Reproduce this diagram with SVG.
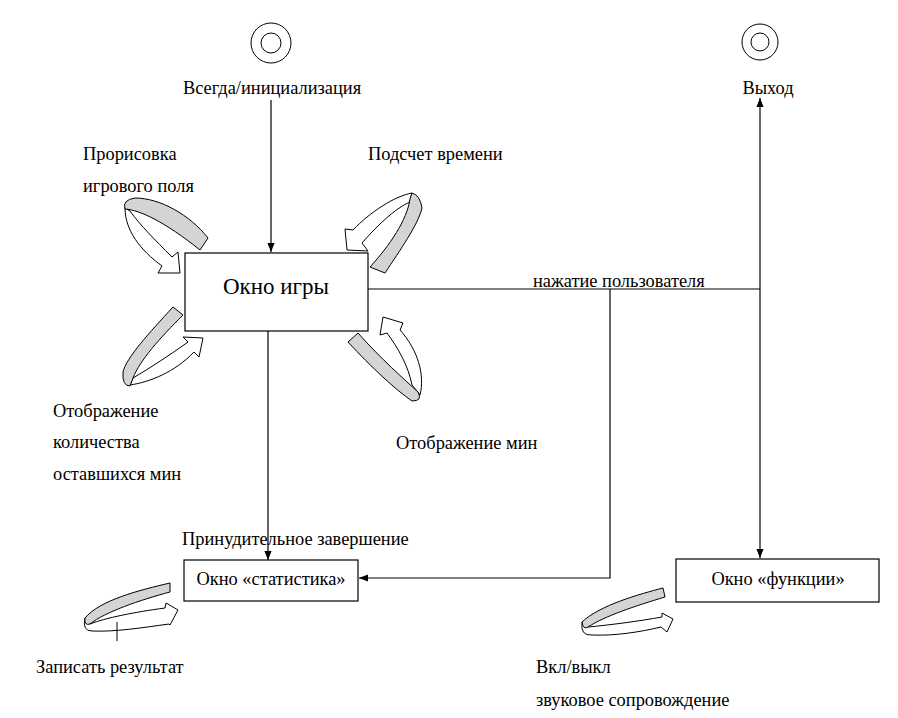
<svg xmlns="http://www.w3.org/2000/svg" width="898" height="718" viewBox="0 0 898 718">
<defs>
<style>
text{font-family:'Liberation Serif','DejaVu Serif',serif;font-size:18.4px;fill:#000}
.big{font-size:23px}
.n{fill:#fff;stroke:#000;stroke-width:1.2}
.ln{fill:none;stroke:#000;stroke-width:1.2}
.band{fill:#d4d4d4;stroke:#000;stroke-width:1}
.wa{fill:#fff;stroke:#000;stroke-width:1}
.st{fill:none;stroke:#000;stroke-width:1}
</style>
<marker id="ah" viewBox="0 0 10 10" refX="10" refY="5" markerWidth="9" markerHeight="9" markerUnits="userSpaceOnUse" orient="auto">
<path d="M0,1 L10,5 L0,9 z" fill="#000"/>
</marker>
</defs>
<rect width="898" height="718" fill="#fff"/>

<g id="start">
<circle class="st" cx="271" cy="43" r="20"/>
<circle class="st" cx="271" cy="43" r="10"/>
</g>
<g id="end">
<circle class="st" cx="760" cy="42" r="18"/>
<circle class="st" cx="760" cy="42" r="9"/>
</g>

<g id="connectors">
<line class="ln" x1="271" y1="100" x2="271" y2="252" marker-end="url(#ah)"/>
<line class="ln" x1="268" y1="331" x2="268" y2="560" marker-end="url(#ah)"/>
<line class="ln" x1="368" y1="289" x2="760" y2="289"/>
<line class="ln" x1="760" y1="289" x2="760" y2="98" marker-end="url(#ah)"/>
<line class="ln" x1="760" y1="289" x2="760" y2="558" marker-end="url(#ah)"/>
<polyline class="ln" points="610,289 610,578 359,578" marker-end="url(#ah)"/>
</g>

<g id="game">
<rect class="n" x="185" y="253" width="183" height="78"/>
<text class="big" x="276" y="294" text-anchor="middle">Окно игры</text>
</g>
<g id="stats">
<rect class="n" x="184" y="560" width="174" height="41"/>
<text x="271" y="585" text-anchor="middle">Окно «статистика»</text>
</g>
<g id="funcs">
<rect class="n" x="676" y="559" width="203" height="43"/>
<text x="778" y="585" text-anchor="middle">Окно «функции»</text>
</g>

<g id="self-loops">
<path class="wa" d="M125,208 C125,230 140,250 162,266 L158,273 L180,273 L178,252 L172,257 C155,240 140,225 130,211 Z"/>
<path class="band" d="M208,238 C190,215 160,198 135,198 Q122,200 125,209 C140,210 165,222 200,250 Z"/>
<path class="wa" d="M412,193 C395,196 370,212 353,230 L345,229 L347,250 L368,251 L362,243 C375,228 395,208 410,202 Z"/>
<path class="band" d="M410,199 C407,220 390,245 370,267 L385,273 C400,250 418,225 422,208 Q420,195 412,193 Z"/>
<path class="wa" d="M130,385 C150,382 175,372 194,352 L199,357 L203,338 L183,337 L188,342 C170,355 150,368 133,378 Z"/>
<path class="band" d="M173,307 C150,332 126,358 123,372 Q122,386 130,386 L133,378 C140,360 160,338 183,315 Z"/>
<path class="wa" d="M420,395 C425,375 418,350 400,330 L403,323 L383,317 L380,335 L387,333 C398,348 408,365 412,385 Z"/>
<path class="band" d="M348,342 L358,333 C380,358 405,380 418,392 Q423,401 412,401 C396,390 372,368 348,342 Z"/>
<path class="wa" d="M85,618 Q82,631 92,631 C115,632 140,628 169,624 L170,625 L178,610 L166,603 L165,608 C135,612 105,618 90,624 Z"/>
<path class="band" d="M170,583 C140,590 100,600 85,618 Q84,626 90,624 C105,612 140,600 170,592 Z"/>
<line class="st" x1="117" y1="622" x2="117" y2="641"/>
<path class="wa" d="M582,622 Q580,636 592,635 C615,636 640,632 661,627 L667,632 L673,619 L662,613 L662,617 C640,621 610,625 588,627 Z"/>
<path class="band" d="M663,588 C640,594 600,605 582,622 Q583,630 588,627 C605,616 635,606 665,597 Z"/>
</g>

<g id="labels">
<text x="272" y="94" text-anchor="middle">Всегда/инициализация</text>
<text x="768" y="94" text-anchor="middle">Выход</text>
<text x="83" y="160">Прорисовка</text>
<text x="83" y="192">игрового поля</text>
<text x="368" y="160">Подсчет времени</text>
<text x="533" y="287">нажатие пользователя</text>
<text x="53" y="417">Отображение</text>
<text x="53" y="448">количества</text>
<text x="53" y="480">оставшихся мин</text>
<text x="396" y="449">Отображение мин</text>
<text x="182" y="545">Принудительное завершение</text>
<text x="36" y="673">Записать результат</text>
<text x="536" y="673">Вкл/выкл</text>
<text x="536" y="706">звуковое сопровождение</text>
</g>
</svg>
